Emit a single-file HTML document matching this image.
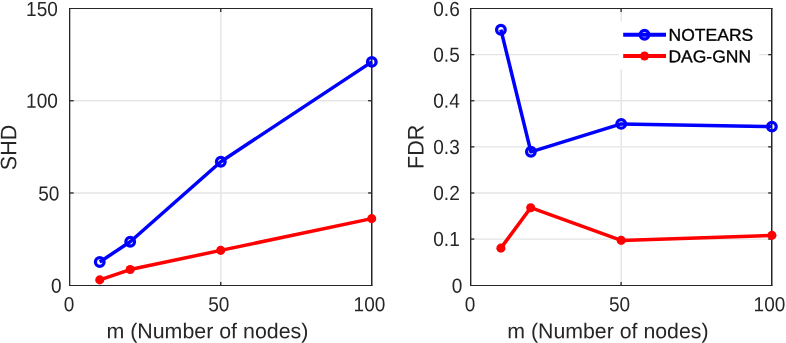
<!DOCTYPE html>
<html><head><meta charset="utf-8"><title>SHD and FDR vs number of nodes</title>
<style>
html,body{margin:0;padding:0;background:#fff;}
svg{display:block;font-family:"Liberation Sans",Arial,Helvetica,sans-serif;text-rendering:geometricPrecision;}
</style></head>
<body>
<svg width="786" height="343" viewBox="0 0 786 343">
<rect width="786" height="343" fill="#fff"/>
<line x1="220.90" y1="8.5" x2="220.90" y2="285.2" stroke="#e4e4e4" stroke-width="1.4"/>
<line x1="70.0" y1="192.97" x2="371.8" y2="192.97" stroke="#e5e5e5" stroke-width="1.4"/>
<line x1="70.0" y1="100.73" x2="371.8" y2="100.73" stroke="#e5e5e5" stroke-width="1.4"/>
<line x1="220.75" y1="285.2" x2="220.75" y2="281.9" stroke="#262626" stroke-width="1.3"/>
<line x1="220.75" y1="8.5" x2="220.75" y2="12.100000000000001" stroke="#262626" stroke-width="1.3"/>
<line x1="70.0" y1="192.97" x2="73.7" y2="192.97" stroke="#262626" stroke-width="1.3"/>
<line x1="371.8" y1="192.97" x2="368.1" y2="192.97" stroke="#262626" stroke-width="1.3"/>
<line x1="70.0" y1="100.73" x2="73.7" y2="100.73" stroke="#262626" stroke-width="1.3"/>
<line x1="371.8" y1="100.73" x2="368.1" y2="100.73" stroke="#262626" stroke-width="1.3"/>
<line x1="69.65" y1="7.95" x2="69.65" y2="285.84999999999997" stroke="#262626" stroke-width="1.3"/>
<line x1="371.75" y1="7.95" x2="371.75" y2="285.84999999999997" stroke="#262626" stroke-width="1.5"/>
<line x1="69.0" y1="8.5" x2="372.5" y2="8.5" stroke="#262626" stroke-width="1.1"/>
<line x1="69.0" y1="285.45" x2="372.5" y2="285.45" stroke="#262626" stroke-width="1.15"/>
<polyline points="99.75,262.00 130.20,241.70 220.80,161.70 371.80,61.90" fill="none" stroke="#0000ff" stroke-width="3.5" stroke-linejoin="round"/>
<circle cx="99.75" cy="262.00" r="4.3" fill="none" stroke="#0000ff" stroke-width="3.3"/>
<circle cx="130.20" cy="241.70" r="4.3" fill="none" stroke="#0000ff" stroke-width="3.3"/>
<circle cx="220.80" cy="161.70" r="4.3" fill="none" stroke="#0000ff" stroke-width="3.3"/>
<circle cx="371.80" cy="61.90" r="4.3" fill="none" stroke="#0000ff" stroke-width="3.3"/>
<polyline points="99.75,279.90 130.20,269.55 220.70,250.40 371.70,218.65" fill="none" stroke="#ff0000" stroke-width="3.5" stroke-linejoin="round"/>
<circle cx="99.75" cy="279.90" r="4.55" fill="#ff0000"/>
<circle cx="130.20" cy="269.55" r="4.55" fill="#ff0000"/>
<circle cx="220.70" cy="250.40" r="4.55" fill="#ff0000"/>
<circle cx="371.70" cy="218.65" r="4.55" fill="#ff0000"/>
<line x1="621.25" y1="8.5" x2="621.25" y2="285.2" stroke="#e4e4e4" stroke-width="1.4"/>
<line x1="470.6" y1="239.08" x2="771.9" y2="239.08" stroke="#e5e5e5" stroke-width="1.4"/>
<line x1="470.6" y1="192.97" x2="771.9" y2="192.97" stroke="#e5e5e5" stroke-width="1.4"/>
<line x1="470.6" y1="146.85" x2="771.9" y2="146.85" stroke="#e5e5e5" stroke-width="1.4"/>
<line x1="470.6" y1="100.73" x2="771.9" y2="100.73" stroke="#e5e5e5" stroke-width="1.4"/>
<line x1="470.6" y1="54.62" x2="771.9" y2="54.62" stroke="#e5e5e5" stroke-width="1.4"/>
<rect x="618.8" y="21.3" width="140.4" height="48.1" fill="#fff"/>
<line x1="621.10" y1="285.2" x2="621.10" y2="281.9" stroke="#262626" stroke-width="1.3"/>
<line x1="621.10" y1="8.5" x2="621.10" y2="12.100000000000001" stroke="#262626" stroke-width="1.3"/>
<line x1="470.6" y1="239.08" x2="474.3" y2="239.08" stroke="#262626" stroke-width="1.3"/>
<line x1="771.9" y1="239.08" x2="768.2" y2="239.08" stroke="#262626" stroke-width="1.3"/>
<line x1="470.6" y1="192.97" x2="474.3" y2="192.97" stroke="#262626" stroke-width="1.3"/>
<line x1="771.9" y1="192.97" x2="768.2" y2="192.97" stroke="#262626" stroke-width="1.3"/>
<line x1="470.6" y1="146.85" x2="474.3" y2="146.85" stroke="#262626" stroke-width="1.3"/>
<line x1="771.9" y1="146.85" x2="768.2" y2="146.85" stroke="#262626" stroke-width="1.3"/>
<line x1="470.6" y1="100.73" x2="474.3" y2="100.73" stroke="#262626" stroke-width="1.3"/>
<line x1="771.9" y1="100.73" x2="768.2" y2="100.73" stroke="#262626" stroke-width="1.3"/>
<line x1="470.6" y1="54.62" x2="474.3" y2="54.62" stroke="#262626" stroke-width="1.3"/>
<line x1="771.9" y1="54.62" x2="768.2" y2="54.62" stroke="#262626" stroke-width="1.3"/>
<line x1="470.7" y1="7.95" x2="470.7" y2="285.84999999999997" stroke="#262626" stroke-width="1.4"/>
<line x1="771.75" y1="7.95" x2="771.75" y2="285.84999999999997" stroke="#262626" stroke-width="1.5"/>
<line x1="470.0" y1="8.5" x2="772.5" y2="8.5" stroke="#262626" stroke-width="1.1"/>
<line x1="470.0" y1="285.45" x2="772.5" y2="285.45" stroke="#262626" stroke-width="1.15"/>
<polyline points="500.90,29.70 530.90,151.80 621.20,123.90 771.90,126.60" fill="none" stroke="#0000ff" stroke-width="3.5" stroke-linejoin="round"/>
<circle cx="500.90" cy="29.70" r="4.3" fill="none" stroke="#0000ff" stroke-width="3.3"/>
<circle cx="530.90" cy="151.80" r="4.3" fill="none" stroke="#0000ff" stroke-width="3.3"/>
<circle cx="621.20" cy="123.90" r="4.3" fill="none" stroke="#0000ff" stroke-width="3.3"/>
<circle cx="771.90" cy="126.60" r="4.3" fill="none" stroke="#0000ff" stroke-width="3.3"/>
<polyline points="500.90,248.15 530.70,207.70 621.20,240.40 771.90,235.40" fill="none" stroke="#ff0000" stroke-width="3.5" stroke-linejoin="round"/>
<circle cx="500.90" cy="248.15" r="4.55" fill="#ff0000"/>
<circle cx="530.70" cy="207.70" r="4.55" fill="#ff0000"/>
<circle cx="621.20" cy="240.40" r="4.55" fill="#ff0000"/>
<circle cx="771.90" cy="235.40" r="4.55" fill="#ff0000"/>
<line x1="623.2" y1="34.7" x2="666" y2="34.7" stroke="#0000ff" stroke-width="3.9"/>
<circle cx="644.5" cy="34.7" r="4.3" fill="none" stroke="#0000ff" stroke-width="3.3"/>
<line x1="623.2" y1="56.0" x2="666" y2="56.0" stroke="#ff0000" stroke-width="3.9"/>
<circle cx="644.5" cy="56.0" r="4.5" fill="#ff0000"/>
<text id="yl150" transform="translate(26.10,15.90) rotate(0.03) scale(0.975,1.05)" font-size="19.5" fill="#262626">150</text>
<text id="yl100" transform="translate(26.10,107.80) rotate(0.03) scale(0.975,1.05)" font-size="19.5" fill="#262626">100</text>
<text id="yl50" transform="translate(38.20,200.60) rotate(0.03) scale(0.975,1.05)" font-size="19.5" fill="#262626">50</text>
<text id="yl0" transform="translate(50.90,292.80) rotate(0.03) scale(0.975,1.05)" font-size="19.5" fill="#262626">0</text>
<text id="xl0" transform="translate(63.70,311.30) rotate(0.03) scale(0.975,1.05)" font-size="19.5" fill="#262626">0</text>
<text id="xl50" transform="translate(208.30,311.30) rotate(0.03) scale(0.975,1.05)" font-size="19.5" fill="#262626">50</text>
<text id="xl100" transform="translate(353.60,311.30) rotate(0.03) scale(0.975,1.05)" font-size="19.5" fill="#262626">100</text>
<text id="xlab1" transform="translate(106.40,338.25) rotate(0.03) scale(1.0,1.0)" font-size="21.38" fill="#262626">m (Number of nodes)</text>
<text id="ry6" transform="translate(433.30,15.90) rotate(0.03) scale(0.975,1.05)" font-size="19.5" fill="#262626">0.6</text>
<text id="ry5" transform="translate(433.30,61.80) rotate(0.03) scale(0.975,1.05)" font-size="19.5" fill="#262626">0.5</text>
<text id="ry4" transform="translate(433.30,107.80) rotate(0.03) scale(0.975,1.05)" font-size="19.5" fill="#262626">0.4</text>
<text id="ry3" transform="translate(433.30,153.90) rotate(0.03) scale(0.975,1.05)" font-size="19.5" fill="#262626">0.3</text>
<text id="ry2" transform="translate(433.30,200.00) rotate(0.03) scale(0.975,1.05)" font-size="19.5" fill="#262626">0.2</text>
<text id="ry1" transform="translate(433.30,246.10) rotate(0.03) scale(0.975,1.05)" font-size="19.5" fill="#262626">0.1</text>
<text id="ry0" transform="translate(451.70,292.80) rotate(0.03) scale(0.975,1.05)" font-size="19.5" fill="#262626">0</text>
<text id="rx0" transform="translate(464.80,311.30) rotate(0.03) scale(0.975,1.05)" font-size="19.5" fill="#262626">0</text>
<text id="rx50" transform="translate(608.90,311.30) rotate(0.03) scale(0.975,1.05)" font-size="19.5" fill="#262626">50</text>
<text id="rx100" transform="translate(753.60,311.30) rotate(0.03) scale(0.975,1.05)" font-size="19.5" fill="#262626">100</text>
<text id="xlab2" transform="translate(507.30,338.25) rotate(0.03) scale(1.0,1.0)" font-size="21.3" fill="#262626">m (Number of nodes)</text>
<text id="lg1" transform="translate(668.60,40.70) rotate(0.03) scale(1.0,0.975)" font-size="17.5" fill="#000" stroke="#000" stroke-width="0.35">NOTEARS</text>
<text id="lg2" transform="translate(668.40,62.20) rotate(0.03) scale(1.0,0.975)" font-size="17.5" fill="#000" stroke="#000" stroke-width="0.35">DAG-GNN</text>
<text id="ylab1" transform="translate(16.20,170.20) rotate(-90.03) scale(1.0,1.04)" font-size="21.5" fill="#262626">SHD</text>
<text id="ylab2" transform="translate(423.60,169.00) rotate(-90.03) scale(1.0,1.05)" font-size="21.5" fill="#262626">FDR</text>
</svg>
</body></html>
